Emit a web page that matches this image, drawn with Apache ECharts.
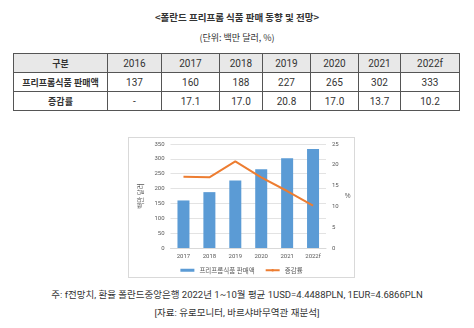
<!DOCTYPE html>
<html><head><meta charset="utf-8">
<script src="https://cdn.jsdelivr.net/npm/echarts@6/dist/echarts.min.js"></script>
<style>
html,body{margin:0;padding:0;background:#fff;width:474px;height:328px;overflow:hidden;font-family:"Noto Sans CJK KR","Noto Sans",sans-serif;color:#333;}
#title{position:absolute;left:0;width:474px;top:10px;text-align:center;font-size:9.5px;font-weight:bold;line-height:14px;}
#sub{position:absolute;left:0;width:474px;top:31px;text-align:center;font-size:9px;line-height:14px;}
#tbl{position:absolute;left:13px;top:53px;border-collapse:collapse;table-layout:fixed;}
#tbl td{border:1px solid #555;text-align:center;font-size:10px;padding:0;height:18px;font-family:Roboto,"Noto Sans CJK KR",sans-serif;color:#333;}
#tbl tr.h td{background:#e8e8e8;}
#tbl td.f{font-family:"Noto Sans CJK KR",sans-serif;font-weight:bold;font-size:9px;}
#chart{position:absolute;left:128px;top:137px;width:227px;height:141px;border:1px solid #d9d9d9;box-sizing:border-box;}
#n1{position:absolute;left:0;width:474px;top:288px;text-align:center;font-size:9.5px;line-height:14px;font-family:Roboto,"Noto Sans CJK KR",sans-serif;}
#n2{position:absolute;left:0;width:474px;top:306px;text-align:center;font-size:9.5px;line-height:14px;font-family:Roboto,"Noto Sans CJK KR",sans-serif;}
</style></head>
<body>
<div id="title">&lt;폴란드 프리프롬 식품 판매 동향 및 전망&gt;</div>
<div id="sub">(단위: 백만 달러, %)</div>
<table id="tbl"></table>
<div id="chart"></div>
<div id="n1">주: f전망치, 환율 폴란드중앙은행 2022년 1~10월 평균 1USD=4.4488PLN, 1EUR=4.6866PLN</div>
<div id="n2">[자료: 유로모니터, 바르샤바무역관 재분석]</div>
<script>
// ---- data ----
var tableYears = ['2016','2017','2018','2019','2020','2021','2022f'];
var tableSales = ['137','160','188','227','265','302','333'];
var tableGrowth = ['-','17.1','17.0','20.8','17.0','13.7','10.2'];
var rowHeaders = ['구분','프리프롬식품 판매액','증감률'];

var chartCategories = ['2017','2018','2019','2020','2021','2022f'];
var salesValues = [160, 188, 227, 265, 302, 333];
var growthValues = [17.1, 17.0, 20.8, 17.0, 13.7, 10.2];
var seriesNames = ['프리프롬식품 판매액','증감률'];

// ---- table ----
var colWidths = [94,54,58,43,48,48,42,59];
var tbl = document.getElementById('tbl');
var cg = document.createElement('colgroup');
colWidths.forEach(function(w){var c=document.createElement('col');c.style.width=w+'px';cg.appendChild(c);});
tbl.appendChild(cg);
var rows = [tableYears, tableSales, tableGrowth];
rows.forEach(function(r,i){
  var tr=document.createElement('tr'); if(i===0) tr.className='h';
  var th=document.createElement('td'); th.className='f'; th.textContent=rowHeaders[i]; tr.appendChild(th);
  r.forEach(function(v){var td=document.createElement('td'); td.textContent=v; tr.appendChild(td);});
  tbl.appendChild(tr);
});

// ---- chart ----
var chart = echarts.init(document.getElementById('chart'), null, {renderer:'canvas'});
var lab = {color:'#595959', fontSize:6, fontFamily:'Roboto, "Noto Sans CJK KR", sans-serif'};
chart.setOption({
  animation:false,
  grid:{left:25,right:28,top:6,bottom:29},
  legend:{
    top:124, left:'center', itemWidth:14, itemHeight:3, itemGap:10,
    textStyle:{color:'#595959', fontSize:6.5, fontFamily:'"Noto Sans CJK KR", sans-serif'},
    data:[{name:seriesNames[0], icon:'rect'},{name:seriesNames[1]}]
  },
  xAxis:{
    type:'category', data:chartCategories,
    axisLine:{lineStyle:{color:'#d9d9d9'}}, axisTick:{show:false},
    axisLabel:Object.assign({margin:5}, lab)
  },
  yAxis:[{
    type:'value', min:0, max:350, interval:50,
    name:'백만 달러', nameLocation:'middle', nameGap:20, nameRotate:90,
    nameTextStyle:{color:'#595959', fontSize:6.5, fontFamily:'"Noto Sans CJK KR", sans-serif'},
    splitLine:{lineStyle:{color:'#e3e3e3', width:1}},
    axisLine:{show:false}, axisTick:{show:false},
    axisLabel:Object.assign({margin:6}, lab)
  },{
    type:'value', min:0, max:25, interval:5,
    name:'%', nameLocation:'middle', nameGap:16, nameRotate:0,
    nameTextStyle:{color:'#595959', fontSize:6.5},
    splitLine:{show:false}, axisLine:{show:false}, axisTick:{show:false},
    axisLabel:Object.assign({margin:6}, lab)
  }],
  series:[{
    name:seriesNames[0], type:'bar', data:salesValues, barWidth:12,
    itemStyle:{color:'#5B9BD5'}
  },{
    name:seriesNames[1], type:'line', yAxisIndex:1, data:growthValues,
    symbol:'none', lineStyle:{color:'#ED7D31', width:2}, itemStyle:{color:'#ED7D31'}
  }]
});
</script>
</body></html>
